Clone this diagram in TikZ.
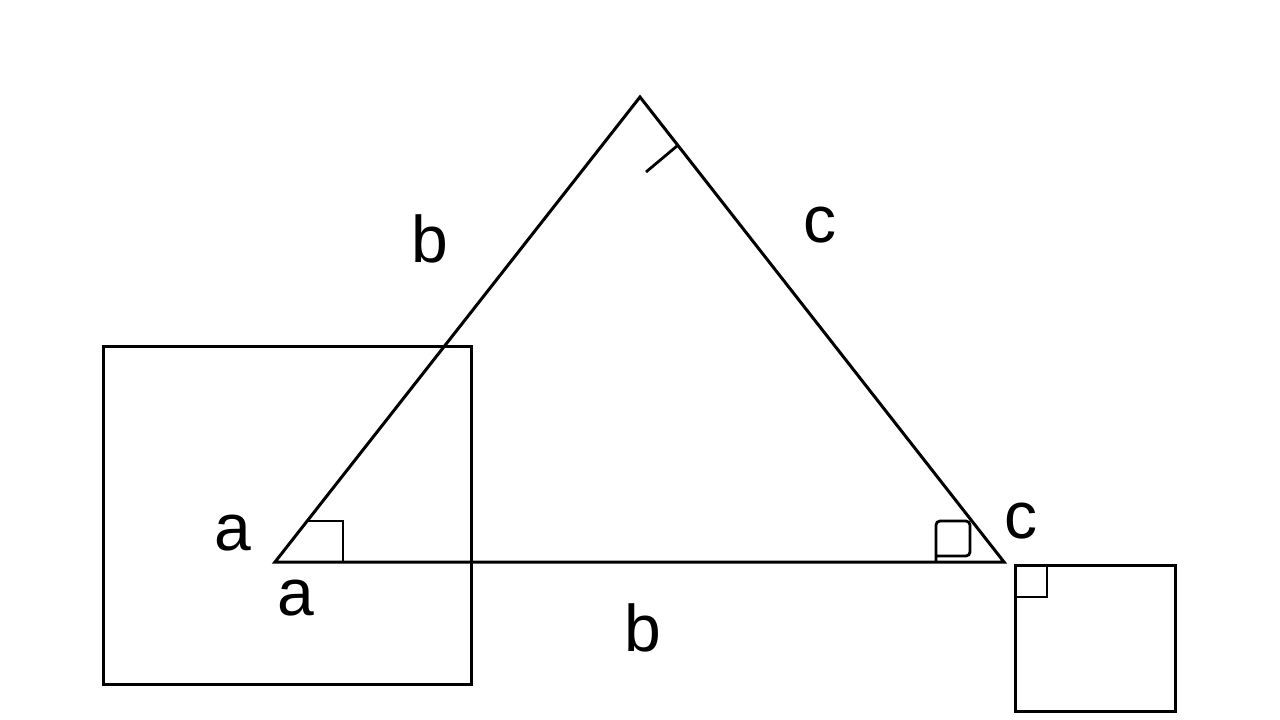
\documentclass[tikz,border=0pt]{standalone}
\usepackage{fontspec}
\setmainfont{Liberation Sans}
\begin{document}
\begin{tikzpicture}[x=1pt,y=-1pt,
  edge/.style={line width=3pt,line join=miter,black},
  tickmark/.style={line width=2.8pt,black},
  lbl/.style={font=\fontsize{66}{72}\selectfont,inner sep=0pt,anchor=center}]
\useasboundingbox[fill=white] (0,0) rectangle (1280,720);
\coordinate (A) at (275,562);
\coordinate (T) at (640,97);
\coordinate (B) at (1004,562);
% left rectangle
\draw[edge] (103,346) rectangle (471,684);
% small square
\draw[edge] (1015,565) rectangle (1175,711);
\draw[tickmark] (1015,597) -- (1047,597) -- (1047,565);
% triangle
\draw[edge] (A) -- (T) -- (B) -- cycle;
% right angle marks
\draw[tickmark] (307,521) -- (343,521) -- (343,562);
\draw[tickmark,rounded corners=4pt] (936,562) -- (936,521) -- (970,521) -- (970,556) -- (936,556);
% tick at top
\draw[tickmark] (677,146) -- (646,172);
% labels
\node[lbl] (lb1) at (430,239) {b};
\node[lbl] (lc1) at (820,225) {c};
\node[lbl] (la1) at (233,533) {a};
\node[lbl] (la2) at (296,598) {a};
\node[lbl] (lb2) at (643,628) {b};
\node[lbl] (lc2) at (1021,521) {c};
\end{tikzpicture}
\end{document}
